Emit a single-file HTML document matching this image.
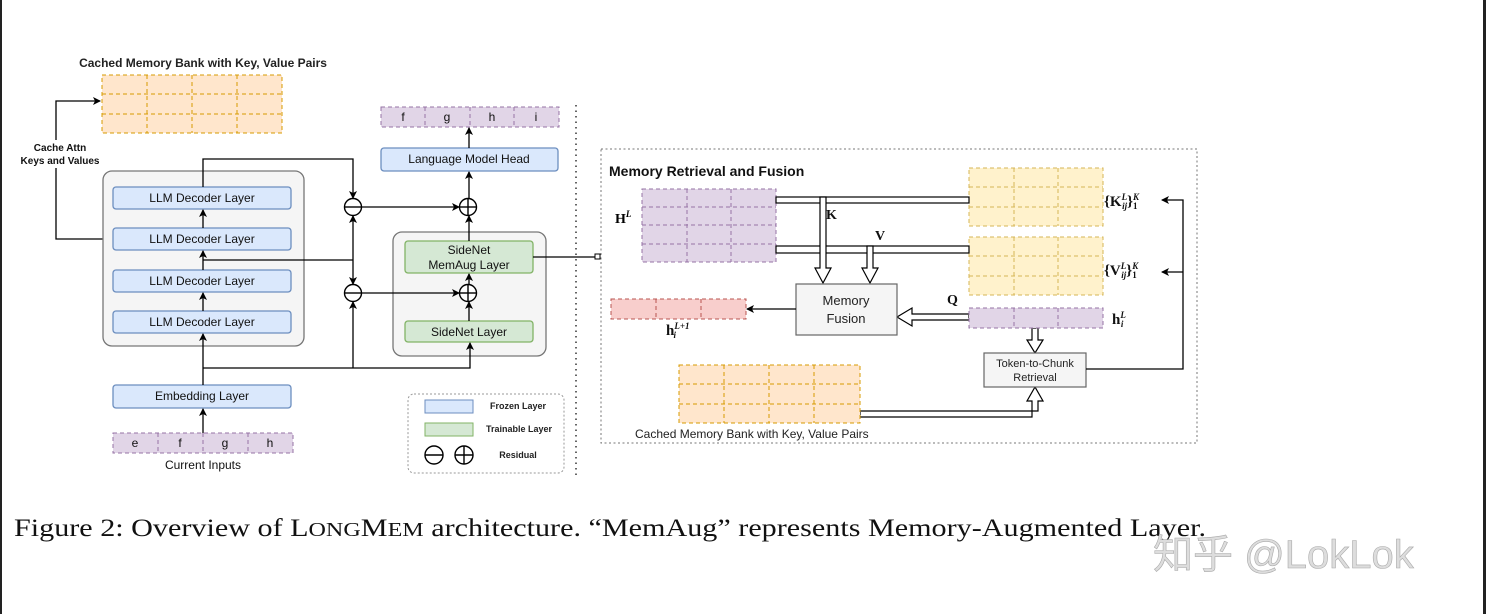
<!DOCTYPE html>
<html><head><meta charset="utf-8"><style>
html,body{margin:0;padding:0;background:#fff;}
svg{display:block;}
</style></head><body>
<svg width="1486" height="614" viewBox="0 0 1486 614" xmlns="http://www.w3.org/2000/svg" font-family="Liberation Sans,Arial,sans-serif">
<defs>
<marker id="a" markerWidth="8" markerHeight="8" refX="7" refY="4" orient="auto" markerUnits="userSpaceOnUse"><path d="M0,0 L8,4 L0,8 L2,4 z" fill="#000"/></marker>
</defs>
<rect x="0" y="0" width="1486" height="614" fill="#fff"/>
<rect x="0" y="0" width="2" height="614" fill="#222"/>
<rect x="1483" y="0" width="3" height="614" fill="#222"/>

<g font-size="12" fill="#111">
<text x="203" y="67" text-anchor="middle" font-size="12" font-weight="bold" fill="#222">Cached Memory Bank with Key, Value Pairs</text>
<rect x="102" y="75" width="180" height="58" fill="#ffe6cc" stroke="#d79b00" stroke-dasharray="4,3"/>
<g stroke="#d79b00" stroke-dasharray="4,3"><line x1="147" y1="75" x2="147" y2="133"/><line x1="192" y1="75" x2="192" y2="133"/><line x1="237" y1="75" x2="237" y2="133"/><line x1="102" y1="94" x2="282" y2="94"/><line x1="102" y1="114" x2="282" y2="114"/></g>
<polyline points="113,239 56,239 56,101 100,101" fill="none" stroke="#000" stroke-width="1.3" marker-end="url(#a)"/>
<rect x="20" y="140" width="78" height="28" fill="#fff"/>
<text x="60" y="151" text-anchor="middle" font-size="10" font-weight="bold">Cache Attn</text>
<text x="60" y="164" text-anchor="middle" font-size="10" font-weight="bold">Keys and Values</text>

<rect x="103" y="171" width="201" height="175" rx="9" fill="#f5f5f5" stroke="#777" stroke-width="1.3"/>
<g fill="#dae8fc" stroke="#6c8ebf" stroke-width="1.3">
<rect x="113" y="187" width="178" height="22" rx="3"/>
<rect x="113" y="228" width="178" height="22" rx="3"/>
<rect x="113" y="270" width="178" height="22" rx="3"/>
<rect x="113" y="311" width="178" height="22" rx="3"/>
<rect x="113" y="385" width="178" height="23" rx="3"/>
<rect x="381" y="148" width="177" height="23" rx="3"/>
</g>
<text x="202" y="202" text-anchor="middle">LLM Decoder Layer</text>
<text x="202" y="243" text-anchor="middle">LLM Decoder Layer</text>
<text x="202" y="285" text-anchor="middle">LLM Decoder Layer</text>
<text x="202" y="326" text-anchor="middle">LLM Decoder Layer</text>
<text x="202" y="400" text-anchor="middle">Embedding Layer</text>
<text x="469" y="163" text-anchor="middle">Language Model Head</text>

<rect x="113" y="433" width="180" height="20" fill="#e1d5e7" stroke="#9673a6" stroke-dasharray="4,3"/>
<g stroke="#9673a6" stroke-dasharray="4,3"><line x1="158" y1="433" x2="158" y2="453"/><line x1="203" y1="433" x2="203" y2="453"/><line x1="248" y1="433" x2="248" y2="453"/></g>
<text x="135" y="447" text-anchor="middle">e</text><text x="180" y="447" text-anchor="middle">f</text><text x="225" y="447" text-anchor="middle">g</text><text x="270" y="447" text-anchor="middle">h</text>
<text x="203" y="469" text-anchor="middle">Current Inputs</text>

<rect x="381" y="107" width="178" height="20" fill="#e1d5e7" stroke="#9673a6" stroke-dasharray="4,3"/>
<g stroke="#9673a6" stroke-dasharray="4,3"><line x1="425" y1="107" x2="425" y2="127"/><line x1="470" y1="107" x2="470" y2="127"/><line x1="514" y1="107" x2="514" y2="127"/></g>
<text x="403" y="121" text-anchor="middle">f</text><text x="447" y="121" text-anchor="middle">g</text><text x="492" y="121" text-anchor="middle">h</text><text x="536" y="121" text-anchor="middle">i</text>

<rect x="393" y="232" width="153" height="124" rx="9" fill="#f5f5f5" stroke="#777" stroke-width="1.3"/>
<g fill="#d5e8d4" stroke="#82b366" stroke-width="1.3">
<rect x="405" y="241" width="128" height="32" rx="3"/>
<rect x="405" y="321" width="128" height="21" rx="3"/>
</g>
<text x="469" y="254" text-anchor="middle">SideNet</text>
<text x="469" y="269" text-anchor="middle">MemAug Layer</text>
<text x="469" y="336" text-anchor="middle">SideNet Layer</text>
</g>

<g fill="none" stroke="#000" stroke-width="1.3">
<line x1="203" y1="433" x2="203" y2="409" marker-end="url(#a)"/>
<line x1="203" y1="385" x2="203" y2="334" marker-end="url(#a)"/>
<line x1="203" y1="311" x2="203" y2="293" marker-end="url(#a)"/>
<line x1="203" y1="270" x2="203" y2="251" marker-end="url(#a)"/>
<line x1="203" y1="228" x2="203" y2="210" marker-end="url(#a)"/>
<polyline points="203,187 203,159 353,159 353,198" marker-end="url(#a)"/>
<polyline points="203,260 353,260"/>
<line x1="353" y1="260" x2="353" y2="216" marker-end="url(#a)"/>
<line x1="353" y1="260" x2="353" y2="284" marker-end="url(#a)"/>
<polyline points="203,368 470,368 470,343" marker-end="url(#a)"/>
<line x1="353" y1="368" x2="353" y2="302" marker-end="url(#a)"/>
<line x1="361" y1="207" x2="459" y2="207" marker-end="url(#a)"/>
<line x1="361" y1="293" x2="459" y2="293" marker-end="url(#a)"/>
<line x1="469" y1="198" x2="469" y2="172" marker-end="url(#a)"/>
<line x1="469" y1="148" x2="469" y2="128" marker-end="url(#a)"/>
<line x1="469" y1="241" x2="469" y2="216" marker-end="url(#a)"/>
<line x1="469" y1="321" x2="469" y2="302" marker-end="url(#a)"/>
<line x1="469" y1="284" x2="469" y2="274" marker-end="url(#a)"/>
<line x1="533" y1="257" x2="595" y2="257"/>
</g>
<rect x="595" y="254" width="5" height="5" fill="#fff" stroke="#000"/>
<g fill="#fff" stroke="#000" stroke-width="1.4">
<circle cx="353" cy="207" r="8.5"/><line x1="345" y1="207" x2="361" y2="207"/>
<circle cx="353" cy="293" r="8.5"/><line x1="345" y1="293" x2="361" y2="293"/>
<circle cx="468" cy="207" r="8.5"/><line x1="460" y1="207" x2="476" y2="207"/><line x1="468" y1="199" x2="468" y2="215"/>
<circle cx="468" cy="293" r="8.5"/><line x1="460" y1="293" x2="476" y2="293"/><line x1="468" y1="285" x2="468" y2="301"/>
</g>
<line x1="576" y1="105" x2="576" y2="478" stroke="#333" stroke-width="1.5" stroke-dasharray="1.5,4"/>

<rect x="408" y="394" width="156" height="79" rx="6" fill="#fff" stroke="#999" stroke-dasharray="2,2"/>
<rect x="425" y="400" width="48" height="13" fill="#dae8fc" stroke="#6c8ebf"/>
<rect x="425" y="423" width="48" height="13" fill="#d5e8d4" stroke="#82b366"/>
<g font-size="9" font-weight="bold" fill="#222">
<text x="518" y="409" text-anchor="middle">Frozen Layer</text>
<text x="519" y="432" text-anchor="middle">Trainable Layer</text>
<text x="518" y="458" text-anchor="middle">Residual</text>
</g>
<g fill="#fff" stroke="#000" stroke-width="1.4">
<circle cx="434" cy="455" r="9"/><line x1="425" y1="455" x2="443" y2="455"/>
<circle cx="464" cy="455" r="9"/><line x1="455" y1="455" x2="473" y2="455"/><line x1="464" y1="446" x2="464" y2="464"/>
</g>

<rect x="601" y="149" width="596" height="294" fill="#fff" stroke="#777" stroke-dasharray="2,2.5"/>
<text x="609" y="176" font-size="14" font-weight="bold" fill="#111">Memory Retrieval and Fusion</text>
<rect x="642" y="189" width="134" height="73" fill="#e1d5e7" stroke="#9673a6" stroke-dasharray="4,3"/>
<g stroke="#9673a6" stroke-dasharray="4,3"><line x1="687" y1="189" x2="687" y2="262"/><line x1="731" y1="189" x2="731" y2="262"/><line x1="642" y1="207" x2="776" y2="207"/><line x1="642" y1="225" x2="776" y2="225"/><line x1="642" y1="244" x2="776" y2="244"/></g>
<text x="615" y="223" font-family="Liberation Serif,serif" font-weight="bold" font-size="14">H<tspan font-size="9" dy="-6" font-style="italic">L</tspan></text>
<rect x="969" y="168" width="134" height="58" fill="#fff2cc" stroke="#d6b656" stroke-dasharray="4,3"/>
<rect x="969" y="237" width="134" height="58" fill="#fff2cc" stroke="#d6b656" stroke-dasharray="4,3"/>
<g stroke="#d6b656" stroke-dasharray="4,3">
<line x1="1014" y1="168" x2="1014" y2="226"/><line x1="1058" y1="168" x2="1058" y2="226"/><line x1="969" y1="187" x2="1103" y2="187"/><line x1="969" y1="207" x2="1103" y2="207"/>
<line x1="1014" y1="237" x2="1014" y2="295"/><line x1="1058" y1="237" x2="1058" y2="295"/><line x1="969" y1="256" x2="1103" y2="256"/><line x1="969" y1="276" x2="1103" y2="276"/>
</g>
<rect x="776" y="197" width="193" height="6" fill="#fff" stroke="#000" stroke-width="1.2"/>
<rect x="776" y="246" width="193" height="7" fill="#fff" stroke="#000" stroke-width="1.2"/>
<g fill="#fff" stroke="#000" stroke-width="1.2">
<path d="M820,197 L826,197 L826,268 L831,268 L823,283 L815,268 L820,268 Z"/>
<path d="M867,246 L873,246 L873,268 L878,268 L870,283 L862,268 L867,268 Z"/>
<path d="M969,314 L969,320 L912,320 L912,326 L897,317 L912,308 L912,314 Z"/>
<path d="M1032,328 L1038,328 L1038,340 L1043,340 L1035,353 L1027,340 L1032,340 Z"/>
<path d="M860,411 L1038,411 L1038,401 L1043,401 L1035,387 L1027,401 L1032,401 L1032,417 L860,417 Z"/>
</g>
<g font-family="Liberation Serif,serif" font-weight="bold" fill="#111">
<text x="826" y="219" font-size="14">K</text>
<text x="875" y="240" font-size="14">V</text>
<text x="947" y="304" font-size="14">Q</text>
<text x="1104" y="206" font-size="15">{K<tspan font-size="9" dy="-6" font-style="italic">L</tspan><tspan font-size="9" dy="9" dx="-5" font-style="italic">ij</tspan><tspan dy="-3">}</tspan><tspan font-size="9" dy="-6" font-style="italic">K</tspan><tspan font-size="9" dy="9" dx="-6">1</tspan></text>
<text x="1104" y="275" font-size="15">{V<tspan font-size="9" dy="-6" font-style="italic">L</tspan><tspan font-size="9" dy="9" dx="-5" font-style="italic">ij</tspan><tspan dy="-3">}</tspan><tspan font-size="9" dy="-6" font-style="italic">K</tspan><tspan font-size="9" dy="9" dx="-6">1</tspan></text>
<text x="1112" y="324" font-size="15">h<tspan font-size="9" dy="-6" font-style="italic">L</tspan><tspan font-size="9" dy="9" dx="-5" font-style="italic">i</tspan></text>
<text x="666" y="335" font-size="15">h<tspan font-size="9" dy="-6" font-style="italic">L+1</tspan><tspan font-size="9" dy="9" dx="-16" font-style="italic">i</tspan></text>
</g>
<rect x="796" y="284" width="101" height="51" fill="#f5f5f5" stroke="#666" stroke-width="1.2"/>
<text x="846" y="305" text-anchor="middle" font-size="13" fill="#222">Memory</text>
<text x="846" y="323" text-anchor="middle" font-size="13" fill="#222">Fusion</text>
<rect x="611" y="299" width="135" height="20" fill="#f8cecc" stroke="#b85450" stroke-dasharray="4,3"/>
<g stroke="#b85450" stroke-dasharray="4,3"><line x1="656" y1="299" x2="656" y2="319"/><line x1="701" y1="299" x2="701" y2="319"/></g>
<line x1="796" y1="309" x2="747" y2="309" stroke="#000" stroke-width="1.2" marker-end="url(#a)"/>
<rect x="969" y="308" width="134" height="20" fill="#e1d5e7" stroke="#9673a6" stroke-dasharray="4,3"/>
<g stroke="#9673a6" stroke-dasharray="4,3"><line x1="1014" y1="308" x2="1014" y2="328"/><line x1="1058" y1="308" x2="1058" y2="328"/></g>
<rect x="984" y="353" width="102" height="34" fill="#f5f5f5" stroke="#666" stroke-width="1.2"/>
<text x="1035" y="367" text-anchor="middle" font-size="11" fill="#222">Token-to-Chunk</text>
<text x="1035" y="381" text-anchor="middle" font-size="11" fill="#222">Retrieval</text>
<g fill="none" stroke="#000" stroke-width="1.3">
<polyline points="1086,369 1183,369 1183,200 1162,200" marker-end="url(#a)"/>
<line x1="1183" y1="272" x2="1162" y2="272" marker-end="url(#a)"/>
</g>
<rect x="679" y="365" width="181" height="58" fill="#ffe6cc" stroke="#d79b00" stroke-dasharray="4,3"/>
<g stroke="#d79b00" stroke-dasharray="4,3"><line x1="724" y1="365" x2="724" y2="423"/><line x1="769" y1="365" x2="769" y2="423"/><line x1="814" y1="365" x2="814" y2="423"/><line x1="679" y1="384" x2="860" y2="384"/><line x1="679" y1="404" x2="860" y2="404"/></g>
<text x="635" y="438" font-size="12" fill="#222">Cached Memory Bank with Key, Value Pairs</text>

<text x="14" y="536" font-family="Liberation Serif,serif" font-size="25" fill="#111" textLength="1192" lengthAdjust="spacingAndGlyphs">Figure 2: Overview of L<tspan font-size="20">ONG</tspan>M<tspan font-size="20">EM</tspan> architecture. “MemAug” represents Memory-Augmented Layer.</text>
<text x="1153" y="568" font-family="Liberation Sans,'Noto Sans CJK SC',sans-serif" font-size="40" fill="#ddd" stroke="#aaa" stroke-width="0.6">知乎 @LokLok</text>
</svg>
</body></html>
